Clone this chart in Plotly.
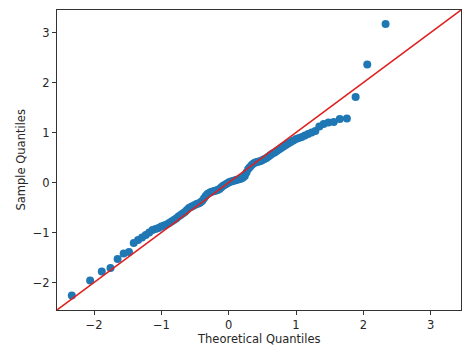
import plotly.graph_objects as go

theoretical_neg = [-2.330, -2.058, -1.885, -1.755, -1.650, -1.560, -1.481, -1.410, -1.346, -1.287,
                   -1.232, -1.180, -1.132, -1.086, -1.043, -1.001, -0.961, -0.922, -0.885, -0.849,
                   -0.814, -0.780, -0.746, -0.714, -0.682, -0.651, -0.621, -0.591, -0.561, -0.533,
                   -0.504, -0.476, -0.449, -0.422, -0.395, -0.368, -0.342, -0.316, -0.290, -0.264,
                   -0.239, -0.213, -0.188, -0.163, -0.137, -0.112, -0.087, -0.062, -0.037, -0.012]
theoretical_pos = [0.012, 0.037, 0.062, 0.087, 0.112, 0.137, 0.163, 0.188, 0.213, 0.239,
                   0.264, 0.290, 0.316, 0.342, 0.368, 0.395, 0.422, 0.449, 0.476, 0.504,
                   0.533, 0.561, 0.591, 0.621, 0.651, 0.682, 0.714, 0.746, 0.780, 0.814,
                   0.849, 0.885, 0.922, 0.961, 1.001, 1.043, 1.086, 1.132, 1.180, 1.232,
                   1.287, 1.346, 1.410, 1.481, 1.560, 1.650, 1.755, 1.885, 2.058, 2.330]

sample_neg = [-2.26, -1.96, -1.78, -1.71, -1.53, -1.42, -1.39, -1.21, -1.15, -1.10,
              -1.05, -1.00, -0.95, -0.93, -0.91, -0.88, -0.86, -0.84, -0.81, -0.78,
              -0.75, -0.72, -0.68, -0.65, -0.62, -0.59, -0.55, -0.51, -0.49, -0.47,
              -0.45, -0.43, -0.42, -0.40, -0.37, -0.32, -0.27, -0.23, -0.21, -0.19,
              -0.18, -0.17, -0.16, -0.15, -0.13, -0.10, -0.07, -0.05, -0.03, -0.01]
sample_pos = [0.01, 0.02, 0.03, 0.04, 0.05, 0.06, 0.07, 0.08, 0.10, 0.13,
              0.20, 0.27, 0.31, 0.35, 0.38, 0.40, 0.41, 0.42, 0.43, 0.45,
              0.47, 0.49, 0.52, 0.55, 0.58, 0.60, 0.63, 0.66, 0.69, 0.72,
              0.75, 0.78, 0.81, 0.84, 0.87, 0.89, 0.91, 0.94, 0.97, 1.00,
              1.03, 1.12, 1.17, 1.20, 1.21, 1.27, 1.28, 1.71, 2.36, 3.17]

axis_limits = [-2.55, 3.45]
tick_vals = [-2, -1, 0, 1, 2, 3]
x_title = "Theoretical Quantiles"
y_title = "Sample Quantiles"

theoretical = theoretical_neg + theoretical_pos
sample = sample_neg + sample_pos

fig = go.Figure()
fig.add_trace(go.Scatter(
    x=theoretical, y=sample, mode="markers",
    marker=dict(color="#1f77b4", size=8, line=dict(width=0)),
    showlegend=False, hoverinfo="skip"))
fig.add_trace(go.Scatter(
    x=axis_limits, y=axis_limits, mode="lines",
    line=dict(color="#e0201e", width=1.5),
    showlegend=False, hoverinfo="skip"))

axis_common = dict(
    range=axis_limits, tickvals=tick_vals, showgrid=False, zeroline=False,
    showline=True, mirror=True, linecolor="#333333", linewidth=1,
    ticks="outside", ticklen=4, tickwidth=1, tickcolor="#333333",
    tickfont=dict(size=11.5, color="#262626"), automargin=False,
)

fig.update_layout(
    width=474, height=351,
    margin=dict(l=57, r=13, t=10, b=41),
    paper_bgcolor="white", plot_bgcolor="white",
    font=dict(family="DejaVu Sans", size=11.5, color="#262626"),
    xaxis=axis_common,
    yaxis=axis_common,
    annotations=[
        dict(text=x_title, xref="paper", yref="paper", x=0.5, y=-29 / 300,
             xanchor="center", yanchor="middle", showarrow=False,
             font=dict(size=11.5, color="#262626")),
        dict(text=y_title, xref="paper", yref="paper", x=-36.5 / 404, y=0.5,
             xanchor="center", yanchor="middle", showarrow=False, textangle=-90,
             font=dict(size=11.5, color="#262626")),
    ],
)

fig.write_html("out.html")
